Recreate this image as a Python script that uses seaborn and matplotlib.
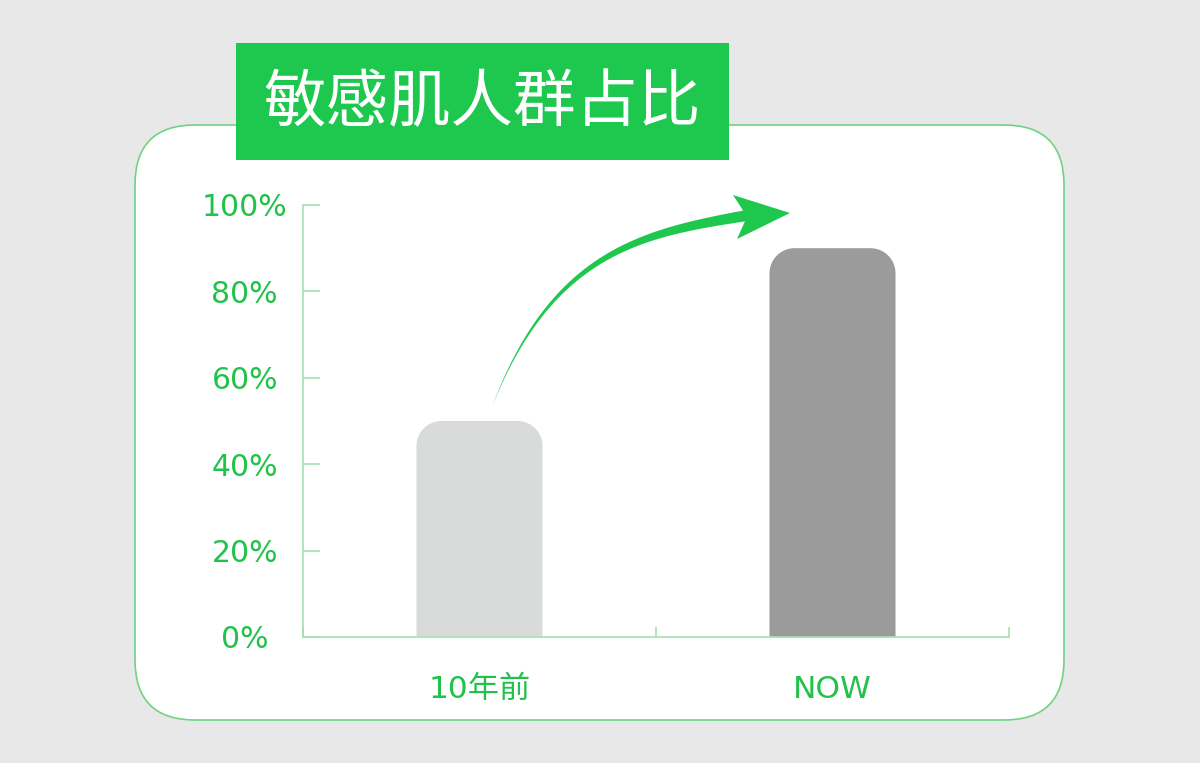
import numpy as np
import pandas as pd
import matplotlib
matplotlib.use("Agg")
import matplotlib.pyplot as plt
import seaborn as sns
from matplotlib.patches import FancyBboxPatch, Rectangle, Polygon
from matplotlib.ticker import FixedLocator

# data
categories = ["10年前", "NOW"]
shares = [50, 90]
bar_colors = ["#d9dbda", "#9b9b9b"]
y_ticks = [0, 20, 40, 60, 80, 100]
y_labels = ["0%", "20%", "40%", "60%", "80%", "100%"]
title = "敏感肌人群占比"

GREEN = "#1ec84e"
TEXT_GREEN = "#22c24a"
AXIS_GREEN = "#a6e0b1"
LABEL_FONT = ["DejaVu Sans", "Noto Sans CJK SC"]

sns.set_style("white")
plt.rcParams["font.family"] = ["Noto Sans CJK SC", "DejaVu Sans"]

W, H, DPI = 1200, 763, 100
fig = plt.figure(figsize=(W / DPI, H / DPI), dpi=DPI, facecolor="#e8e8e8")

def px(x, y):
    # pixel (from top-left) -> inches for dpi_scale_trans
    return x / DPI, (H - y) / DPI

# white rounded panel
x0, y0 = px(135, 720)
panel = FancyBboxPatch((x0, y0), (1064 - 135) / DPI, (720 - 125) / DPI,
                       boxstyle="round,pad=0,rounding_size=0.6",
                       transform=fig.dpi_scale_trans, facecolor="white",
                       edgecolor="#6fd382", linewidth=1.2, zorder=-1)
fig.patches.append(panel)

# title banner
bx, by = px(236, 160)
banner = Rectangle((bx, by), (729 - 236) / DPI, (160 - 43) / DPI,
                   transform=fig.dpi_scale_trans, facecolor=GREEN,
                   edgecolor="none", zorder=5)
fig.patches.append(banner)
tx, ty = px(482, 103)
fig.text(tx / (W / DPI), ty / (H / DPI), title, color="white", fontsize=45,
         ha="center", va="center", zorder=6)

# axes
ax = fig.add_axes([303 / W, (H - 637) / H, 706 / W, 432 / H])
ax.patch.set_alpha(0)

df = pd.DataFrame({"period": categories, "share": shares})
sns.barplot(data=df, x="period", y="share", hue="period",
            palette=bar_colors, width=0.357, legend=False, ax=ax,
            saturation=1)

ax.set_xlim(-0.5, 1.5)
ax.set_ylim(0, 100)
ax.set_xlabel("")
ax.set_ylabel("")

for s in ["top", "right"]:
    ax.spines[s].set_visible(False)
for s in ["left", "bottom"]:
    ax.spines[s].set_color(AXIS_GREEN)
    ax.spines[s].set_linewidth(1.2)

ax.set_yticks(y_ticks)
ax.set_yticklabels(y_labels, family=LABEL_FONT)
ax.tick_params(axis="y", left=True, direction="in", length=12.5, width=1.2,
               color=AXIS_GREEN, labelcolor=TEXT_GREEN, labelsize=21.5, pad=42)
for lab in ax.get_yticklabels():
    lab.set_horizontalalignment("center")

ax.set_xticks(range(len(categories)))
ax.set_xticklabels(categories, family=LABEL_FONT)
ax.xaxis.set_minor_locator(FixedLocator([-0.5, 0.5, 1.5]))
ax.tick_params(axis="x", which="major", length=0, labelcolor=TEXT_GREEN,
               labelsize=22.5, pad=27)
ax.tick_params(axis="x", which="minor", bottom=True, direction="in",
               length=7.5, width=1.2, color=AXIS_GREEN)

# round the top corners of the bars
fig.canvas.draw()
bbox = ax.get_window_extent()
px_per_x = bbox.width / (ax.get_xlim()[1] - ax.get_xlim()[0])
px_per_y = bbox.height / (ax.get_ylim()[1] - ax.get_ylim()[0])
r_px = 25
rx, ry = r_px / px_per_x, r_px / px_per_y
ang = np.linspace(0, np.pi / 2, 20)
for bar in list(ax.patches):
    bx_, bw, bh = bar.get_x(), bar.get_width(), bar.get_height()
    col = bar.get_facecolor()
    bar.set_visible(False)
    # right-top corner then left-top corner, as quarter ellipses
    right = np.column_stack([bx_ + bw - rx + rx * np.cos(ang),
                             bh - ry + ry * np.sin(ang)])
    left = np.column_stack([bx_ + rx - rx * np.cos(ang[::-1]),
                            bh - ry + ry * np.sin(ang[::-1])])
    outline = np.vstack([[bx_ + bw, 0], right, left, [bx_, 0]])
    ax.add_patch(Polygon(outline, closed=True, facecolor=col,
                         edgecolor="none", zorder=2))

# tapered curved arrow
P0, P1, P2, P3 = [np.array(p, float) for p in
                  [(492, 407), (552, 251), (644, 233), (744, 216)]]
t = np.linspace(0, 1, 80)[:, None]
curve = (1 - t) ** 3 * P0 + 3 * (1 - t) ** 2 * t * P1 + 3 * (1 - t) * t ** 2 * P2 + t ** 3 * P3
deriv = 3 * (1 - t) ** 2 * (P1 - P0) + 6 * (1 - t) * t * (P2 - P1) + 3 * t ** 2 * (P3 - P2)
tang = deriv / np.linalg.norm(deriv, axis=1)[:, None]
normal = np.column_stack([tang[:, 1], -tang[:, 0]])
half = 5.5 * t
upper = curve + normal * half
lower = curve - normal * half
head = np.array([(733, 195), (790, 213), (737, 239)], float)
if upper[-1, 1] > lower[-1, 1]:
    upper, lower = lower, upper
pts = np.vstack([upper, head, lower[::-1]])
pts_in = np.column_stack([pts[:, 0] / DPI, (H - pts[:, 1]) / DPI])
fig.patches.append(Polygon(pts_in, closed=True, transform=fig.dpi_scale_trans,
                           facecolor=GREEN, edgecolor="none", zorder=4))

fig.savefig("out.png", dpi=DPI, facecolor=fig.get_facecolor())
